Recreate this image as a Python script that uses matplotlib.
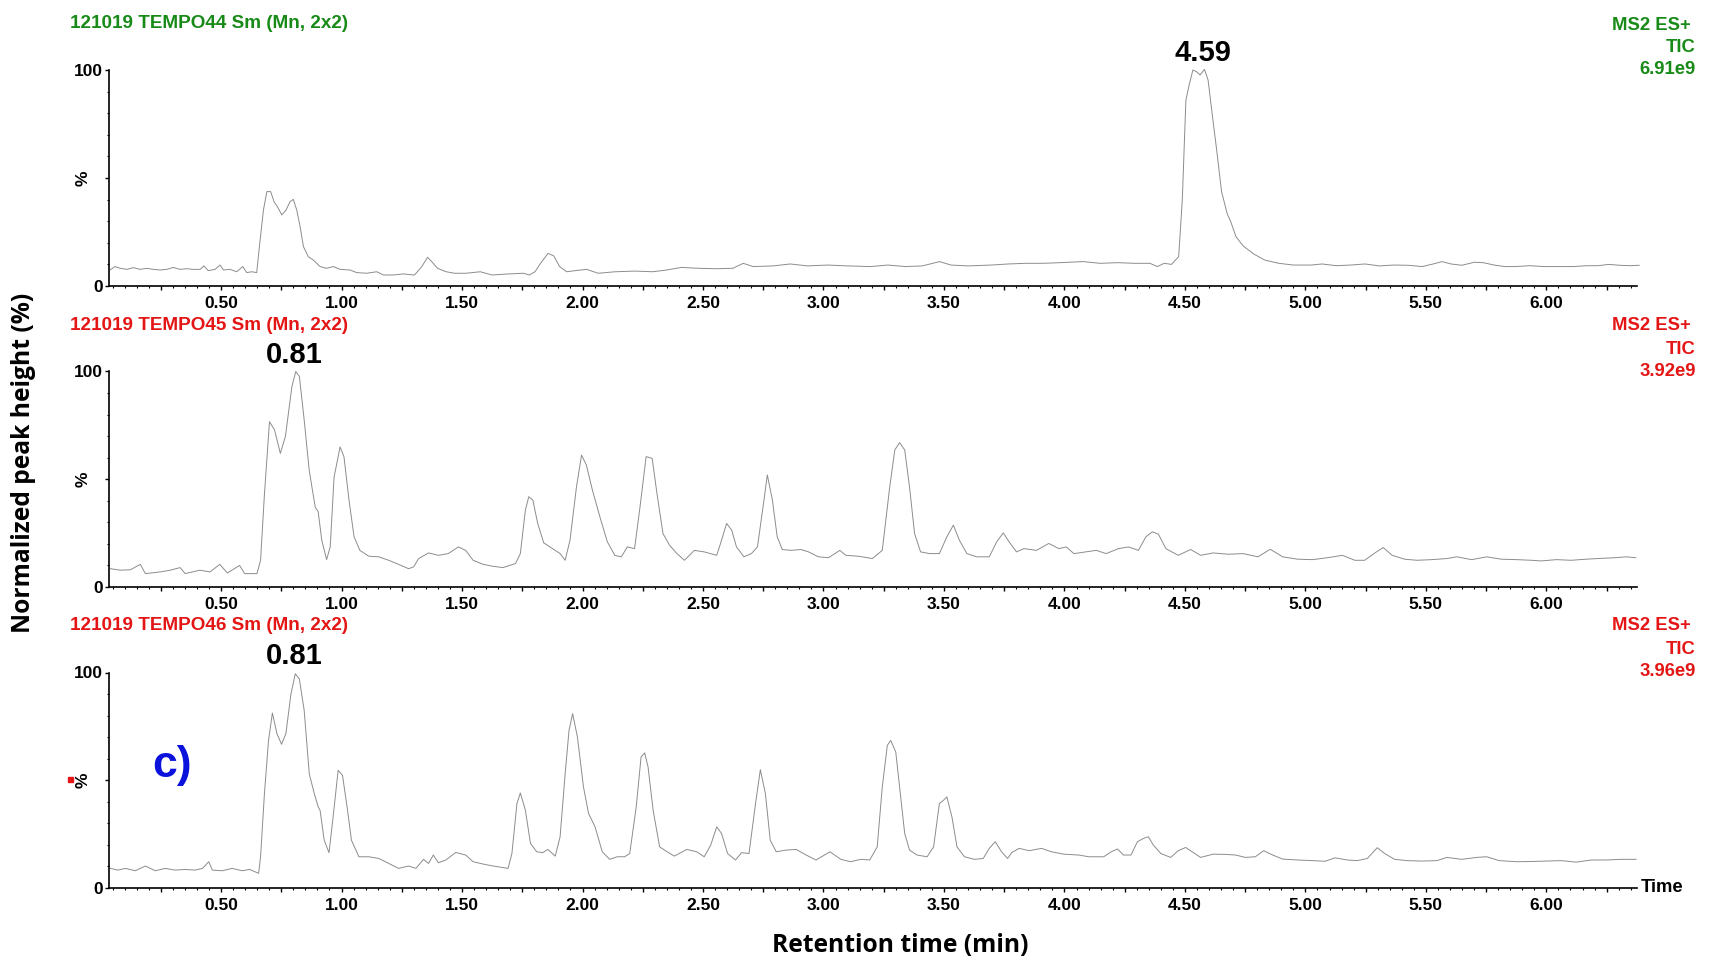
import numpy as np
import matplotlib
matplotlib.use('Agg')
from matplotlib import pyplot as plt
from matplotlib.ticker import MultipleLocator
from matplotlib.patches import Rectangle

plt.rcParams['font.family'] = ['Liberation Sans', 'DejaVu Sans']
plt.rcParams['font.weight'] = 'bold'

# ---- data: retention time (min) and normalized TIC (%) ----
t44 = [0.039, 0.060, 0.081, 0.109, 0.136, 0.164, 0.192, 0.219, 0.247, 0.275, 0.302, 0.330,
       0.358, 0.385, 0.413, 0.429, 0.447, 0.475, 0.496, 0.510, 0.537, 0.565, 0.590, 0.607,
       0.627, 0.648, 0.659, 0.676, 0.690, 0.706, 0.720, 0.734, 0.752, 0.770, 0.786, 0.800,
       0.814, 0.828, 0.842, 0.862, 0.883, 0.911, 0.938, 0.966, 0.994, 1.035, 1.063, 1.104,
       1.146, 1.174, 1.215, 1.257, 1.298, 1.303, 1.333, 1.357, 1.374, 1.398, 1.434, 1.469,
       1.517, 1.576, 1.624, 1.695, 1.755, 1.779, 1.803, 1.826, 1.857, 1.881, 1.905, 1.934,
       1.969, 2.017, 2.065, 2.136, 2.219, 2.291, 2.350, 2.410, 2.481, 2.553, 2.624, 2.667,
       2.708, 2.791, 2.862, 2.934, 3.017, 3.101, 3.196, 3.267, 3.339, 3.410, 3.482, 3.529,
       3.601, 3.696, 3.767, 3.839, 3.910, 3.982, 4.077, 4.148, 4.220, 4.291, 4.355, 4.385,
       4.414, 4.444, 4.474, 4.489, 4.504, 4.519, 4.533, 4.548, 4.563, 4.581, 4.596, 4.611,
       4.630, 4.652, 4.675, 4.690, 4.712, 4.742, 4.786, 4.831, 4.890, 4.950, 5.024, 5.069,
       5.128, 5.188, 5.247, 5.307, 5.366, 5.426, 5.485, 5.530, 5.567, 5.604, 5.649, 5.701,
       5.738, 5.783, 5.827, 5.872, 5.931, 5.991, 6.050, 6.110, 6.169, 6.214, 6.259, 6.303,
       6.348, 6.385]
i44 = [7.4, 9.0, 8.2, 7.7, 8.5, 7.7, 8.2, 7.7, 7.4, 7.7, 8.6, 7.7,
       8.0, 7.7, 7.7, 9.3, 7.1, 7.7, 9.7, 7.4, 7.7, 6.6, 9.0, 6.2,
       6.6, 6.2, 18.2, 35.2, 43.7, 43.7, 39.0, 36.7, 32.9, 35.2, 39.0, 40.1,
       35.2, 27.5, 18.2, 13.6, 12.0, 9.0, 8.2, 9.0, 7.7, 7.4, 6.2, 5.9,
       6.6, 5.1, 5.1, 5.6, 5.1, 5.1, 9.0, 13.3, 11.3, 8.2, 6.6, 5.9,
       5.9, 6.6, 5.1, 5.6, 5.9, 5.1, 6.6, 10.5, 15.1, 13.9, 9.0, 6.6,
       7.1, 7.7, 5.9, 6.6, 6.9, 6.6, 7.4, 8.6, 8.2, 8.0, 8.2, 10.5,
       9.0, 9.3, 10.2, 9.3, 9.7, 9.3, 9.0, 9.7, 9.0, 9.3, 11.3, 9.7,
       9.3, 9.7, 10.2, 10.5, 10.5, 10.8, 11.3, 10.5, 10.8, 10.5, 10.5, 9.0,
       10.5, 10.0, 13.6, 39.8, 86.1, 93.8, 100.0, 99.2, 97.7, 100.3, 95.4, 81.5,
       64.5, 43.7, 33.6, 29.8, 22.8, 18.5, 14.8, 12.0, 10.5, 9.7, 9.7, 10.2,
       9.4, 9.7, 10.2, 9.3, 9.7, 9.6, 9.0, 10.2, 11.3, 10.2, 9.6, 11.0,
       10.8, 9.7, 9.0, 9.0, 9.4, 9.0, 9.0, 9.0, 9.4, 9.4, 10.0, 9.6,
       9.4, 9.6]

t45 = [0.041, 0.082, 0.124, 0.165, 0.186, 0.247, 0.289, 0.330, 0.351, 0.412, 0.454, 0.495,
       0.526, 0.577, 0.598, 0.649, 0.664, 0.680, 0.701, 0.722, 0.746, 0.767, 0.794, 0.810,
       0.825, 0.845, 0.866, 0.891, 0.903, 0.918, 0.938, 0.953, 0.969, 0.994, 1.010, 1.031,
       1.052, 1.076, 1.113, 1.155, 1.196, 1.237, 1.278, 1.299, 1.320, 1.361, 1.402, 1.443,
       1.485, 1.515, 1.546, 1.588, 1.629, 1.670, 1.722, 1.742, 1.763, 1.777, 1.794, 1.814,
       1.839, 1.876, 1.907, 1.928, 1.948, 1.975, 1.996, 2.016, 2.041, 2.072, 2.103, 2.134,
       2.161, 2.186, 2.216, 2.237, 2.264, 2.289, 2.309, 2.334, 2.361, 2.392, 2.423, 2.464,
       2.505, 2.557, 2.577, 2.598, 2.619, 2.639, 2.670, 2.701, 2.726, 2.753, 2.767, 2.788,
       2.808, 2.829, 2.866, 2.907, 2.938, 2.979, 3.021, 3.068, 3.093, 3.144, 3.203, 3.244,
       3.275, 3.296, 3.316, 3.337, 3.357, 3.378, 3.403, 3.440, 3.481, 3.512, 3.539, 3.564,
       3.595, 3.636, 3.688, 3.719, 3.746, 3.770, 3.801, 3.832, 3.884, 3.935, 3.977, 4.008,
       4.039, 4.090, 4.132, 4.173, 4.224, 4.266, 4.307, 4.338, 4.365, 4.390, 4.421, 4.472,
       4.524, 4.565, 4.617, 4.679, 4.741, 4.803, 4.854, 4.906, 4.968, 5.030, 5.092, 5.153,
       5.205, 5.246, 5.288, 5.323, 5.360, 5.412, 5.463, 5.525, 5.587, 5.628, 5.690, 5.752,
       5.814, 5.876, 5.938, 5.979, 6.041, 6.103, 6.165, 6.227, 6.289, 6.330, 6.371]
i45 = [8.5, 7.8, 8.0, 10.5, 6.2, 7.0, 7.8, 9.0, 6.2, 7.8, 7.0, 10.5,
       6.5, 10.0, 6.2, 6.2, 12.4, 43.0, 76.7, 72.9, 62.0, 69.8, 93.0, 100.0,
       97.7, 77.5, 54.0, 37.0, 35.0, 21.7, 12.7, 18.6, 51.0, 65.0, 60.5, 40.3,
       23.3, 17.0, 14.3, 14.0, 12.4, 10.5, 8.5, 9.3, 13.2, 15.8, 14.7, 15.5,
       18.6, 17.0, 12.4, 10.5, 9.6, 9.0, 10.9, 15.5, 35.7, 41.9, 40.3, 29.5,
       20.5, 17.8, 15.5, 12.4, 21.7, 46.5, 61.2, 56.6, 45.0, 32.6, 21.0, 14.7,
       14.0, 18.6, 17.8, 35.7, 60.5, 59.7, 43.4, 24.8, 19.4, 15.5, 12.4, 17.0,
       16.3, 14.7, 21.7, 29.5, 26.4, 18.6, 14.0, 15.5, 18.6, 40.3, 52.0, 40.3,
       23.3, 17.4, 17.0, 17.4, 16.3, 14.0, 13.6, 17.0, 14.7, 14.3, 13.2, 17.0,
       46.5, 63.6, 67.0, 63.6, 46.5, 24.8, 16.3, 15.5, 15.5, 23.3, 28.7, 21.7,
       15.5, 14.0, 14.0, 21.0, 25.1, 21.0, 16.3, 17.8, 17.0, 20.2, 17.8, 18.6,
       15.5, 16.3, 17.0, 15.5, 17.8, 18.6, 17.0, 23.3, 25.6, 24.5, 17.8, 14.7,
       17.4, 14.7, 15.8, 15.2, 15.5, 14.0, 17.5, 14.0, 12.9, 12.7, 13.6, 14.7,
       12.4, 12.4, 15.8, 18.3, 14.7, 12.9, 12.4, 12.7, 13.2, 14.0, 12.7, 14.0,
       12.9, 12.7, 12.4, 12.1, 12.7, 12.4, 12.9, 13.3, 13.6, 14.0, 13.6]

t46 = [0.041, 0.072, 0.103, 0.144, 0.186, 0.227, 0.268, 0.309, 0.351, 0.392, 0.423, 0.449,
       0.464, 0.505, 0.546, 0.588, 0.619, 0.656, 0.664, 0.680, 0.697, 0.713, 0.732, 0.751,
       0.769, 0.790, 0.808, 0.825, 0.845, 0.866, 0.887, 0.903, 0.911, 0.928, 0.948, 0.965,
       0.986, 1.004, 1.025, 1.041, 1.072, 1.113, 1.155, 1.196, 1.237, 1.278, 1.309, 1.340,
       1.361, 1.381, 1.402, 1.433, 1.474, 1.515, 1.546, 1.588, 1.629, 1.691, 1.707, 1.728,
       1.742, 1.763, 1.784, 1.810, 1.835, 1.856, 1.887, 1.907, 1.928, 1.944, 1.959, 1.979,
       2.004, 2.025, 2.052, 2.082, 2.113, 2.144, 2.175, 2.196, 2.223, 2.243, 2.258, 2.272,
       2.293, 2.320, 2.351, 2.381, 2.433, 2.474, 2.505, 2.532, 2.557, 2.577, 2.602, 2.635,
       2.660, 2.691, 2.718, 2.738, 2.759, 2.779, 2.804, 2.845, 2.887, 2.928, 2.969, 3.027,
       3.072, 3.113, 3.155, 3.192, 3.223, 3.244, 3.265, 3.279, 3.300, 3.316, 3.337, 3.357,
       3.388, 3.430, 3.457, 3.481, 3.498, 3.512, 3.533, 3.554, 3.585, 3.626, 3.663, 3.688,
       3.713, 3.739, 3.764, 3.781, 3.812, 3.853, 3.905, 3.946, 3.997, 4.059, 4.101, 4.163,
       4.194, 4.220, 4.245, 4.276, 4.303, 4.328, 4.348, 4.369, 4.400, 4.441, 4.472, 4.503,
       4.530, 4.565, 4.617, 4.668, 4.710, 4.751, 4.792, 4.827, 4.864, 4.906, 4.968, 5.030,
       5.081, 5.123, 5.174, 5.215, 5.257, 5.298, 5.329, 5.370, 5.422, 5.484, 5.546, 5.587,
       5.649, 5.711, 5.752, 5.804, 5.876, 5.938, 6.000, 6.062, 6.124, 6.186, 6.248, 6.310,
       6.372]
i46 = [9.1, 8.3, 9.1, 8.0, 10.2, 8.0, 9.1, 8.3, 8.6, 8.3, 9.1, 12.2,
       8.3, 8.0, 9.1, 8.0, 8.6, 6.8, 14.5, 43.8, 68.5, 81.2, 71.6, 66.7,
       71.6, 90.0, 99.4, 97.0, 82.4, 53.0, 43.8, 37.7, 36.0, 22.2, 16.4, 33.0,
       54.6, 52.3, 36.0, 22.2, 14.5, 14.5, 13.7, 11.4, 9.1, 10.2, 9.1, 13.3,
       11.4, 15.3, 11.7, 13.0, 16.5, 15.3, 12.2, 11.1, 10.2, 9.1, 16.0, 39.2,
       44.1, 36.1, 20.7, 16.8, 16.4, 17.9, 14.8, 23.8, 53.0, 73.1, 80.9, 70.0,
       46.9, 34.6, 28.4, 16.8, 13.3, 14.5, 14.5, 16.0, 37.7, 60.8, 62.7, 56.2,
       36.1, 19.1, 16.8, 14.8, 17.9, 16.8, 14.5, 19.9, 28.4, 25.3, 16.0, 13.0,
       16.4, 16.0, 39.2, 54.9, 43.8, 22.2, 16.8, 17.6, 17.9, 15.3, 13.0, 16.8,
       13.3, 12.2, 13.3, 13.0, 19.1, 46.9, 66.2, 68.5, 63.1, 46.9, 25.3, 17.6,
       15.3, 14.5, 19.1, 39.2, 40.7, 42.3, 33.0, 19.1, 14.5, 13.3, 13.7, 18.4,
       21.5, 16.8, 13.7, 16.4, 18.4, 17.3, 18.4, 16.8, 15.7, 15.3, 14.5, 14.5,
       16.8, 18.1, 15.3, 15.3, 21.5, 23.0, 23.8, 19.9, 16.0, 14.2, 17.3, 18.8,
       16.8, 14.2, 15.7, 15.6, 15.3, 14.2, 14.5, 17.3, 15.3, 13.4, 13.0, 12.7,
       12.4, 14.0, 13.0, 12.7, 13.7, 18.7, 16.0, 13.3, 12.7, 12.5, 12.7, 14.2,
       13.3, 14.2, 14.5, 12.7, 12.2, 12.3, 12.5, 12.7, 12.0, 13.0, 13.0, 13.3,
       13.3]

titles = ['121019 TEMPO44 Sm (Mn, 2x2)', '121019 TEMPO45 Sm (Mn, 2x2)', '121019 TEMPO46 Sm (Mn, 2x2)']
intensities = ['6.91e9', '3.92e9', '3.96e9']
peak_labels = ['4.59', '0.81', '0.81']
peak_rt = [4.575, 0.805, 0.805]
x_ticklabels = ['0.50', '1.00', '1.50', '2.00', '2.50', '3.00', '3.50', '4.00', '4.50', '5.00', '5.50', '6.00']

traces = [(t44, i44), (t45, i45), (t46, i46)]
head_colors = ['#178a17', '#e41515', '#e41515']

W, H = 1709, 969
fig = plt.figure(figsize=(W / 100, H / 100), dpi=100)

def px(x, y):
    return x / W, 1 - y / H

boxes = [(109, 70, 1637, 286), (109, 371.5, 1637, 587), (109, 672.5, 1637, 888)]
head_y = [24, 325, 625]

for k, (x0, y0, x1, y1) in enumerate(boxes):
    ax = fig.add_axes([x0 / W, 1 - y1 / H, (x1 - x0) / W, (y1 - y0) / H])
    t, v = traces[k]
    ax.plot(t, v, color='#8c8c8c', lw=0.7, clip_on=False)
    ax.set_xlim(0.035, 6.376)
    ax.set_ylim(0, 100)
    for s in ['top', 'right']:
        ax.spines[s].set_visible(False)
    for s in ['left', 'bottom']:
        ax.spines[s].set_linewidth(1.2)
    ax.xaxis.set_major_locator(MultipleLocator(0.25))
    ax.xaxis.set_minor_locator(MultipleLocator(0.05))
    ticks = ax.get_xticks()
    ax.set_xticks(ticks)
    labs = []
    for tk in ticks:
        s = '%.2f' % tk
        labs.append(s if s in x_ticklabels else '')
    ax.set_xticklabels(labs)
    ax.set_xlim(0.035, 6.376)
    ax.set_yticks([0, 50, 100])
    ax.set_yticklabels(['0', '', '100'])
    ax.yaxis.set_minor_locator(MultipleLocator(10))
    ax.tick_params(which='major', length=3.2, width=1, labelsize=12.5, pad=1)
    ax.tick_params(axis='x', which='major', pad=4)
    ax.tick_params(which='minor', length=1.6, width=0.8)
    ax.text(-0.017, 50, '%', rotation=90, transform=ax.get_yaxis_transform(),
            ha='center', va='center', fontsize=12.5, fontweight='bold')
    ax.annotate(peak_labels[k], xy=(peak_rt[k], 100), xytext=(0, 2), textcoords='offset points',
                ha='center', va='bottom', fontsize=21, fontweight='bold', annotation_clip=False)

    hx, hy = px(70, head_y[k])
    fig.text(hx, hy, titles[k], color=head_colors[k], fontsize=13.6, fontweight='bold',
             ha='left', va='center')
    rx, ry = px(1691, head_y[k] + 1)
    fig.text(rx, ry, 'MS2 ES+', color=head_colors[k], fontsize=13.3, fontweight='bold',
             ha='right', va='center')
    rx, ry = px(1696, head_y[k] + 24)
    fig.text(rx, ry, 'TIC', color=head_colors[k], fontsize=13.3, fontweight='bold',
             ha='right', va='center')
    rx, ry = px(1696, head_y[k] + 46)
    fig.text(rx, ry, intensities[k], color=head_colors[k], fontsize=13.3, fontweight='bold',
             ha='right', va='center')

# "Time" at end of bottom axis
tx, ty = px(1641, 888)
fig.text(tx, ty, 'Time', fontsize=13.3, fontweight='bold', ha='left', va='center')

# panel tag and small red marker
cx, cy = px(172, 766)
fig.text(cx, cy, 'c)', color='#0a12dc', fontsize=32, fontweight='bold', ha='center', va='center')
mx, my = px(68, 782)
fig.patches.append(Rectangle((mx, my), 5 / W, 5 / H, transform=fig.transFigure,
                             color='#e41515', figure=fig))

# axis labels
lx, ly = px(24, 463)
fig.text(lx, ly, 'Normalized peak height (%)', rotation=90, ha='center', va='center',
         fontsize=17.7, fontweight='bold', family=['Open Sans', 'DejaVu Sans'])
bx, by = px(900, 946)
fig.text(bx, by, 'Retention time (min)', ha='center', va='center',
         fontsize=17.7, fontweight='bold', family=['Open Sans', 'DejaVu Sans'])

fig.savefig('out.png', dpi=100)
